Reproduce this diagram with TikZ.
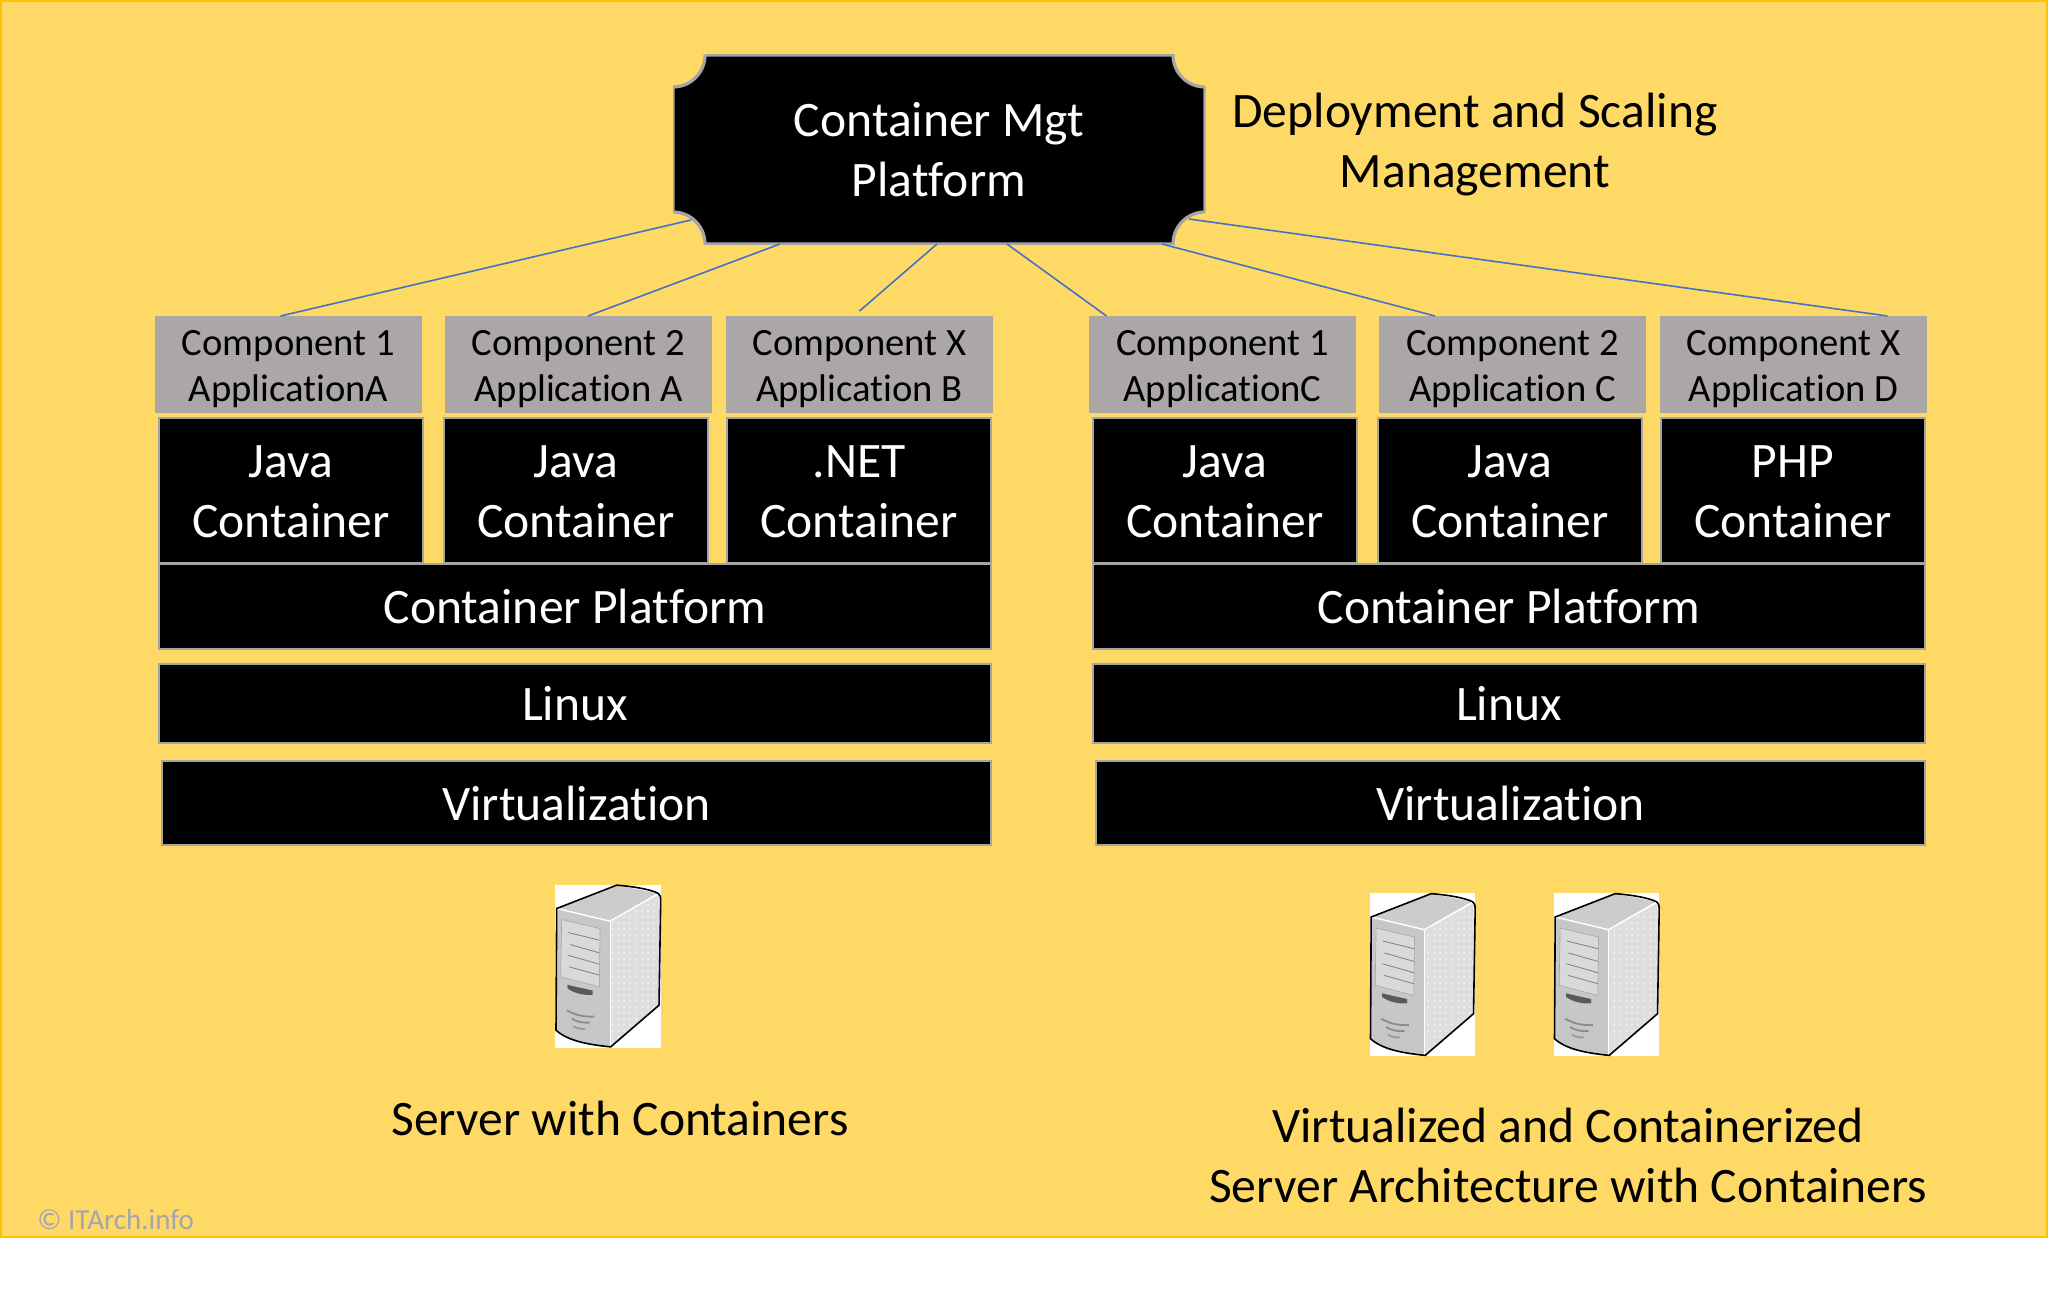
\documentclass[tikz,border=0pt]{standalone}
\usepackage{fontspec}
\setmainfont{Carlito}[Ligatures=NoCommon]
\usetikzlibrary{calc,positioning,patterns}
\definecolor{bgyellow}{HTML}{FFD966}
\definecolor{bgedge}{HTML}{FFC000}
\definecolor{compgray}{HTML}{ABA7A6}
\definecolor{edgegray}{HTML}{A5A5A5}
\definecolor{linkblue}{HTML}{4472C4}
\definecolor{markgray}{HTML}{A5A5B0}

\tikzset{
  server/.pic={
    \begin{scope}[x=0.1667pt,y=-0.1667pt]
      \fill[white] (0,0) rectangle (317,489);
      % faces
      \fill[black!20] (5,72) -- (185,2) -- (310,27) -- (165,110) -- cycle;
      \fill[black!22] (5,72) -- (165,110) -- (165,487) .. controls (100,480) and (40,470) .. (3,437) -- cycle;
      \fill[black!13] (165,110) -- (312,30) -- (312,362) -- (165,487) -- cycle;
      \fill[pattern=dots,pattern color=black!4] (170,115) -- (308,38) -- (308,358) -- (170,478) -- cycle;
      \draw[white,line width=0.7pt] (5,72) -- (165,110) -- (310,27);
      \draw[white,line width=0.5pt] (165,110) -- (165,487);
      % panel
      \draw[black!35,fill=black!15,line width=0.3pt] (20,105) -- (135,132) -- (133,307) -- (17,277) -- cycle;
      \draw[black!50,line width=0.4pt] (40,144) -- (133,167);
      \draw[black!50,line width=0.4pt] (45,180) -- (133,205);
      \draw[black!50,line width=0.4pt] (38,212) -- (133,239);
      \draw[black!50,line width=0.4pt] (43,247) -- (133,272);
      % handle and vents
      \fill[black!65] (37,301) -- (113,318) -- (113,331) .. controls (85,333) and (55,325) .. (38,312) -- cycle;
      \draw[black!45,line width=0.9pt] (35,377) .. controls (60,392) and (90,398) .. (118,396);
      \draw[black!45,line width=0.9pt] (50,402) .. controls (65,412) and (85,416) .. (105,414);
      \draw[black!40,line width=0.9pt] (55,425) .. controls (65,431) and (78,434) .. (90,433);
      % outline
      \draw[black,line width=0.8pt,line join=round] (5,72) -- (185,2) .. controls (230,5) and (290,15) .. (310,27) .. controls (316,32) and (317,38) .. (317,45) -- (312,362) -- (167,487) .. controls (100,480) and (40,470) .. (3,437) -- cycle;
    \end{scope}
  }
}

\begin{document}
\begin{tikzpicture}[x=0.5pt,y=-0.5pt]
  \tikzstyle{big}=[font=\fontsize{24.8}{30}\selectfont, align=center]
  \tikzstyle{comp}=[fill=compgray, minimum width=133.5pt, minimum height=48.5pt, inner sep=0pt, outer sep=0pt, font=\fontsize{19.3}{23}\selectfont, align=center, text height=39.9pt]
  \tikzstyle{layer}=[big, fill=black, draw=edgegray, line width=0.9pt, text=white, inner sep=0pt, outer sep=0pt]
  \tikzstyle{cont}=[layer, minimum width=132pt, minimum height=72.5pt, text height=46.9pt]
  \tikzstyle{platf}=[layer, minimum width=416pt, minimum height=42.5pt]
  \tikzstyle{linuxbar}=[layer, minimum width=416pt, minimum height=39.5pt]
  \tikzstyle{virt}=[layer, minimum width=414.5pt, minimum height=42pt]
  \tikzstyle{imgbox}=[minimum width=53pt, minimum height=81.5pt, inner sep=0pt, outer sep=0pt]
  \tikzstyle{connect}=[linkblue, line width=0.8pt]
  \tikzstyle{plaque}=[big, text=white, minimum width=266pt, minimum height=94.5pt, inner sep=0pt, outer sep=0pt,
    path picture={
      \coordinate (nw) at (path picture bounding box.north west);
      \coordinate (se) at (path picture bounding box.south east);
      \draw[fill=black, draw=edgegray, line width=1.6pt]
        ($(nw)+(16pt,0)$) -- ($(nw -| se)+(-16pt,0)$) arc[start angle=180, end angle=270, radius=16pt]
        -- ($(se)+(0,16pt)$) arc[start angle=90, end angle=180, radius=16pt]
        -- ($(nw |- se)+(16pt,0)$) arc[start angle=0, end angle=90, radius=16pt]
        -- ($(nw)+(0,-16pt)$) arc[start angle=270, end angle=360, radius=16pt];
    }]

  \useasboundingbox (0,0) rectangle (2048,1289);
  \draw[fill=bgyellow, draw=bgedge, line width=1pt] (1,1) rectangle (2047,1237);

  % management
  \node[plaque] (mgt) at (939,149.5) {Container Mgt\\Platform};
  \node[big] (deploy) at (1475,145) {Deployment and Scaling\\Management};

  % components
  \node[comp] (c1) at (288.5,364.5) {Component 1\\ApplicationA};
  \node[comp] (c2) [right=11.5pt of c1] {Component 2\\Application A};
  \node[comp] (c3) [right=7pt of c2] {Component X\\Application B};
  \node[comp] (c4) [right=48pt of c3] {Component 1\\ApplicationC};
  \node[comp] (c5) [right=11.5pt of c4] {Component 2\\Application C};
  \node[comp] (c6) [right=7pt of c5] {Component X\\Application D};

  % containers
  \node[cont] (j1) at (291,490.5) {Java\\Container};
  \node[cont] (j2) [right=10.5pt of j1] {Java\\Container};
  \node[cont] (n1) [right=9.5pt of j2] {.NET\\Container};
  \node[cont] (j3) [right=51pt of n1] {Java\\Container};
  \node[cont] (j4) [right=10.5pt of j3] {Java\\Container};
  \node[cont] (p1) [right=9.5pt of j4] {PHP\\Container};

  % left stack
  \node[platf] (plat1) at (575,606.5) {Container Platform};
  \node[linuxbar] (lin1) [below=7.5pt of plat1] {Linux};
  \node[virt] (virt1) [below=9pt of lin1, xshift=0.75pt] {Virtualization};

  % right stack
  \node[platf] (plat2) [right=51pt of plat1] {Container Platform};
  \node[linuxbar] (lin2) [below=7.5pt of plat2] {Linux};
  \node[virt] (virt2) [below=9pt of lin2, xshift=0.75pt] {Virtualization};

  % servers
  \node[imgbox] (s1) at (608,966) {};
  \node[imgbox] (s2) at (1422.5,974.5) {};
  \node[imgbox] (s3) [right=39pt of s2] {};
  \pic at (s1.north west) {server};
  \pic at (s2.north west) {server};
  \pic at (s3.north west) {server};

  \node[big] (cap1) at (620,1118) {Server with Containers};
  \node[big] (cap2) at (1568,1155) {Virtualized and Containerized\\Server Architecture with Containers};
  \node[markgray, font=\fontsize{14.5}{17}\selectfont, anchor=west, inner sep=0pt] (mark) at (37,1220) {© ITArch.info};

  \path ([xshift=9pt,yshift=12pt]mgt.south west) edge [connect] ([xshift=-4pt]c1.north);
  \path ([xshift=-79.5pt]mgt.south) edge [connect] ([xshift=4.75pt]c2.north);
  \path ([xshift=-1pt]mgt.south) edge [connect] ([yshift=2.5pt]c3.north);
  \path ([xshift=34pt]mgt.south) edge [connect] ([xshift=-58pt]c4.north);
  \path ([xshift=111.5pt]mgt.south) edge [connect] ([xshift=-38.75pt]c5.north);
  \path ([xshift=-8pt,yshift=12.5pt]mgt.south east) edge [connect] ([xshift=47pt]c6.north);
\end{tikzpicture}
\end{document}
